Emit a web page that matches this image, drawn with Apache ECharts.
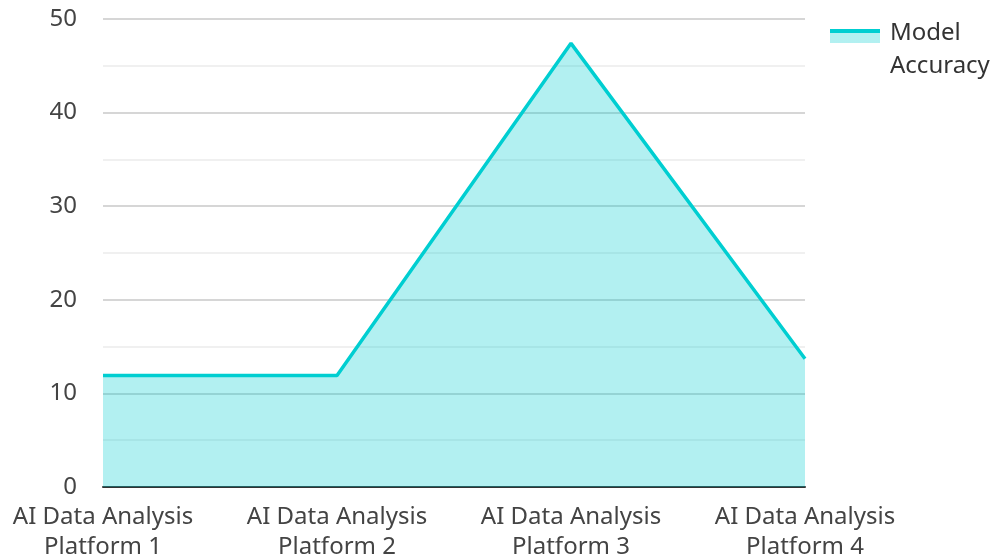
<!DOCTYPE html>
<html>
<head>
<meta charset="utf-8">
<script src="https://cdn.jsdelivr.net/npm/echarts@6/dist/echarts.min.js"></script>
<style>html,body{margin:0;padding:0;background:#fff}#c{width:995px;height:560px}</style>
</head>
<body>
<div id="c"></div>
<script>
const categories = ['AI Data Analysis\nPlatform 1','AI Data Analysis\nPlatform 2','AI Data Analysis\nPlatform 3','AI Data Analysis\nPlatform 4'];
const accuracy = [11.9, 11.9, 47.4, 13.7];
const seriesName = 'Model Accuracy';

const chart = echarts.init(document.getElementById('c'));
const FONT = '"Noto Sans", "Open Sans", sans-serif';
const T = 'rgba(0,0,0,0)';
const A = 'rgba(0,206,209,0.3)';
chart.setOption({
  animation: false,
  textStyle: { fontFamily: FONT },
  grid: { left: 103, right: 190, top: 19, bottom: 73, outerBoundsMode: 'none', containLabel: false },
  legend: {
    left: 830, top: 17, orient: 'vertical', padding: 0,
    itemWidth: 50, itemHeight: 66, itemGap: 8,
    icon: 'rect',
    formatter: function(){ return 'Model\nAccuracy'; },
    textStyle: { fontFamily: FONT, fontSize: 24, color: '#333', lineHeight: 33, padding: [0,0,0,5] },
    itemStyle: {
      color: new echarts.graphic.LinearGradient(0,0,0,1,[
        {offset:0,color:T},{offset:0.175,color:T},
        {offset:0.175,color:'#00CED1'},{offset:0.235,color:'#00CED1'},
        {offset:0.235,color:A},{offset:0.387,color:A},
        {offset:0.387,color:T},{offset:1,color:T}
      ])
    }
  },
  xAxis: {
    type: 'category', data: categories, boundaryGap: false,
    axisLine: { lineStyle: { color: '#333', width: 2 } },
    axisTick: { show: false },
    axisLabel: { fontFamily: FONT, fontSize: 24, color: '#444', lineHeight: 30, margin: 15, interval: 0, hideOverlap: false }
  },
  yAxis: {
    type: 'value', min: 0, max: 50, interval: 10,
    axisLine: { show: false }, axisTick: { show: false },
    axisLabel: { fontFamily: FONT, fontSize: 24, color: '#444', margin: 26 },
    splitLine: { lineStyle: { color: '#c8c8c8', width: 1.5 } },
    minorTick: { show: false, splitNumber: 2 },
    minorSplitLine: { show: true, lineStyle: { color: '#ebebeb', width: 1.5 } }
  },
  series: [{
    name: seriesName, type: 'line', data: accuracy,
    showSymbol: false, symbol: 'none',
    lineStyle: { color: '#00CED1', width: 3.5 },
    itemStyle: { color: '#00CED1' },
    areaStyle: { color: '#00CED1', opacity: 0.3 },
    z: 1
  }]
});
</script>
</body>
</html>
